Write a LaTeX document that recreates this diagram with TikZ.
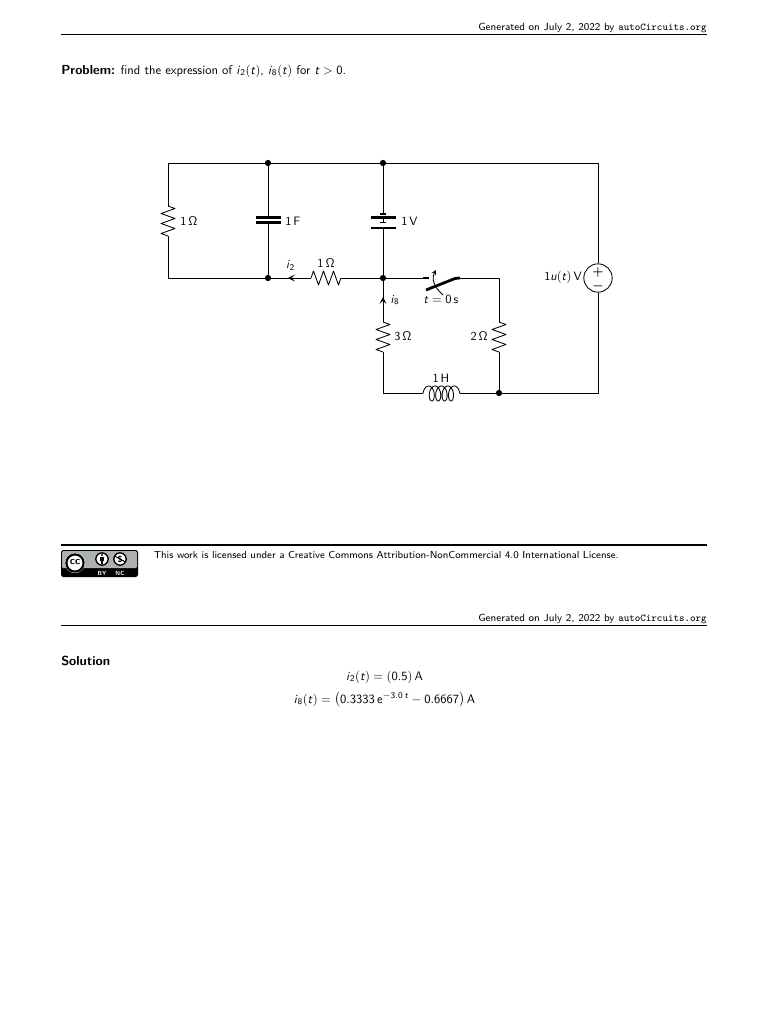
\documentclass[tikz,border=0pt]{standalone}
\usepackage{amsmath}
\usetikzlibrary{arrows.meta}
\definecolor{ccgray}{RGB}{170,178,171}
\newcommand{\vi}{\hbox{\textit{i}}}
\newcommand{\vt}{\hbox{\textit{t}}}
\newcommand{\vts}{\hbox{\fontsize{7}{7}\selectfont\textit{t}}}
\newcommand{\vu}{\hbox{\textit{u}}}
\newcommand{\ohm}{\,$\mathsf{\Omega}$}
\newcommand{\hdr}{Generated on July 2, 2022 by \texttt{autoCircuits.org}}
\newcommand{\bigb}[1]{{\fontsize{10.4}{12}\selectfont\bfseries #1}}
\tikzset{
  wire/.style={line width=0.68pt,line join=round},
  junction/.style={circle,fill=black,inner sep=0pt,minimum size=5pt},
  lab/.style={inner sep=0pt,font=\sffamily\fontsize{9.7}{11}\selectfont},
  body/.style={inner sep=0pt,anchor=base west,font=\sffamily\fontsize{10}{12}\selectfont},
  small/.style={inner sep=0pt,font=\sffamily\fontsize{8.3}{10}\selectfont},
  lic/.style={inner sep=0pt,font=\sffamily\fontsize{8.1}{10}\selectfont},
  curr/.style={wire,-{Stealth[length=5.5pt,width=5.5pt,inset=2.6pt]}},
  respic/.pic={\draw[wire] (-15,0)--(-12.5,-7)--(-7.5,7)--(-2.5,-7)--(2.5,7)--(7.5,-7)--(12.5,7)--(15,0);},
}
\begin{document}
\begin{tikzpicture}[x=0.797pt,y=-0.797pt]
\useasboundingbox[fill=white] (0,0) rectangle (768,1024);
% headers
\node[small,anchor=base east] (h1) at (707,30) {\hdr};
\coordinate (h1a) at (61,34.5); \coordinate (h1b) at (707,34.5);
\draw[line width=0.6pt] (h1a) -- (h1b);
\node[small,anchor=base east] (h2) at (707,621) {\hdr};
\coordinate (h2a) at (61,625.5); \coordinate (h2b) at (707,625.5);
\draw[line width=0.6pt] (h2a) -- (h2b);
\node[body] (prob) at (61,74) {\bigb{Problem:} find the expression of $\vi_{\mathsf{2}}(\vt)$, $\vi_{\mathsf{8}}(\vt)$ for $\vt>\mathsf{0}$.};
% circuit points
\coordinate (tl) at (168,163); \coordinate (tr) at (598,163);
\node[junction] (jc) at (268,163) {}; \node[junction] (jb) at (383,163) {};
\coordinate (bl) at (168,278);
\node[junction] (jm) at (268,278) {}; \node[junction] (jn) at (383,278) {};
\coordinate (sw1) at (423,278); \coordinate (sw2) at (458,278); \coordinate (sr) at (499,278);
\coordinate (b1) at (383,393); \coordinate (l1) at (423,393); \coordinate (l2) at (460,393);
\node[junction] (jr) at (499,393) {}; \coordinate (br) at (598,393);
% resistors
\coordinate (r1t) at (168,206); \coordinate (r1b) at (168,236);
\pic at (168,221) [rotate=90] {respic};
\coordinate (r2l) at (311,278); \coordinate (r2r) at (341,278);
\pic at (326,278) {respic};
\coordinate (r3t) at (383,322); \coordinate (r3b) at (383,352);
\pic at (383,337) [rotate=90] {respic};
\coordinate (r4t) at (499,322); \coordinate (r4b) at (499,352);
\pic at (499,337) [rotate=90] {respic};
% capacitor
\coordinate (c1) at (268,218); \coordinate (c2) at (268,222.5);
\draw[line width=2pt] (256,217.5)--(281,217.5) (256,222.5)--(281,222.5);
% battery
\coordinate (v1) at (383,214); \coordinate (v2) at (383,228);
\draw[line width=1pt] (380,214)--(386,214) (380,222.5)--(386,222.5);
\draw[line width=1.7pt] (371,217.5)--(396,217.5) (371,228)--(396,228);
\draw[wire] (383,217.5)--(383,222.5);
% source
\node[circle,draw,line width=0.68pt,minimum size=22.6pt,inner sep=0pt] (src) at (598,278) {};
\node[inner sep=0pt,font=\boldmath\fontsize{10}{10}\selectfont] (sp) at (598,272.5) {$+$};
\node[inner sep=0pt,font=\boldmath\fontsize{10}{10}\selectfont] (sm) at (598,286.5) {$-$};
% wires
\draw[wire] (r1t) -- (tl) -- (jc) -- (jb) -- (tr) -- (src.north);
\draw[wire] (src.south) -- (br) -- (jr) -- (l2);
\draw[wire] (l1) -- (b1) -- (r3b);
\draw[wire] (r3t) -- (jn);
\draw[wire] (r1b) -- (bl) -- (jm) -- (r2l);
\draw[wire] (r2r) -- (jn) -- (sw1);
\draw[wire] (sw2) -- (sr) -- (r4t);
\draw[wire] (r4b) -- (jr);
\draw[wire] (jc) -- (c1); \draw[wire] (c2) -- (jm);
\draw[wire] (jb) -- (v1); \draw[wire] (v2) -- (jn);
% inductor
\draw[wire] plot[domain=0:1620,samples=240,smooth] ({427+\x/56.25-4*cos(\x)},{393.5-7.5*sin(\x)});
% switch
\draw[line width=2.2pt] (423,278)--(429,278);
\draw[line width=2.2pt] (426,290)--(455,278.5)--(460,278);
\draw[wire,-{Stealth[length=4pt,width=4pt,inset=1.8pt]}] (443,295) .. controls (434,287) and (431,279) .. (436,270);
% currents
\coordinate (i2a) at (297,278); \coordinate (i2b) at (288,278);
\draw[curr] (i2a) -- (i2b);
\coordinate (i8a) at (383,306); \coordinate (i8b) at (383,297);
\draw[curr] (i8a) -- (i8b);
% labels
\node[lab,anchor=west] (lr1) at (180,221.5) {1\ohm};
\node[lab,anchor=west] (lc) at (285,221.5) {1\,F};
\node[lab,anchor=west] (lv) at (401,221.5) {1\,V};
\node[lab] (lr2) at (326,263.5) {1\ohm};
\node[lab] (li2) at (290.5,265.5) {$\vi_{\mathsf{2}}$};
\node[lab] (li8) at (395,300) {$\vi_{\mathsf{8}}$};
\node[lab] (lt) at (441,299.5) {$\vt=\mathsf{0}$\,s};
\node[lab,anchor=west] (lr3) at (394,336.5) {3\ohm};
\node[lab,anchor=east] (lr4) at (488,336.5) {2\ohm};
\node[lab] (ll) at (441,378.5) {1\,H};
\node[lab,anchor=east] (ls) at (582,277.5) {1$\vu(\vt)$\,V};
% licence
\coordinate (ra) at (61,545); \coordinate (rb) at (707,545);
\draw[line width=1.6pt] (ra) -- (rb);
\node[lic,anchor=base west] (licn) at (153.5,558) {This work is licensed under a Creative Commons Attribution-NonCommercial 4.0 International License.};
% badge
\fill[black,rounded corners=1.5pt] (61,550) rectangle (138,577);
\fill[ccgray,rounded corners=1pt] (62,551) rectangle (137,568);
\fill[white] (75,563) circle (10);
\draw[line width=1.7pt] (75,563) circle (8.6);
\node[inner sep=0pt,font=\sffamily\bfseries\fontsize{8.5}{8}\selectfont] (bcc) at (75,562.5) {cc};
\fill[white] (102,559) circle (6.8); \draw[line width=1.1pt] (102,559) circle (6.2);
\fill (102,555) circle (1.2); \fill (100.4,557)rectangle(103.6,560.5); \fill (101,560.5) rectangle (103,564);
\fill[white] (120,559) circle (6.8); \draw[line width=1.1pt] (120,559) circle (6.2);
\node[inner sep=0pt,font=\sffamily\bfseries\fontsize{7}{7}\selectfont] (bnc) at (120,559) {\$};
\draw[line width=0.8pt] (114.5,556) -- (125.5,562);
\node[inner sep=0pt,text=white,font=\sffamily\bfseries\fontsize{4.8}{5}\selectfont] (bby) at (102,573) {BY};
\node[inner sep=0pt,text=white,font=\sffamily\bfseries\fontsize{4.8}{5}\selectfont] (bn) at (120,573) {NC};
% solution
\node[body] (sol) at (61,665) {\bigb{Solution}};
\node[lab,font=\sffamily\fontsize{9.9}{11}\selectfont,anchor=base] (e1) at (384.5,680) {$\vi_{\mathsf{2}}(\vt)=(\mathsf{0.5})\,$A};
\node[lab,font=\sffamily\fontsize{9.9}{11}\selectfont,anchor=base] (e2) at (384.5,703) {$\vi_{\mathsf{8}}(\vt)=\bigl(\mathsf{0.3333}\,\mathsf{e}^{-\mathsf{3.0}\,\vts}-\mathsf{0.6667}\bigr)\,$A};
\end{tikzpicture}
\end{document}
